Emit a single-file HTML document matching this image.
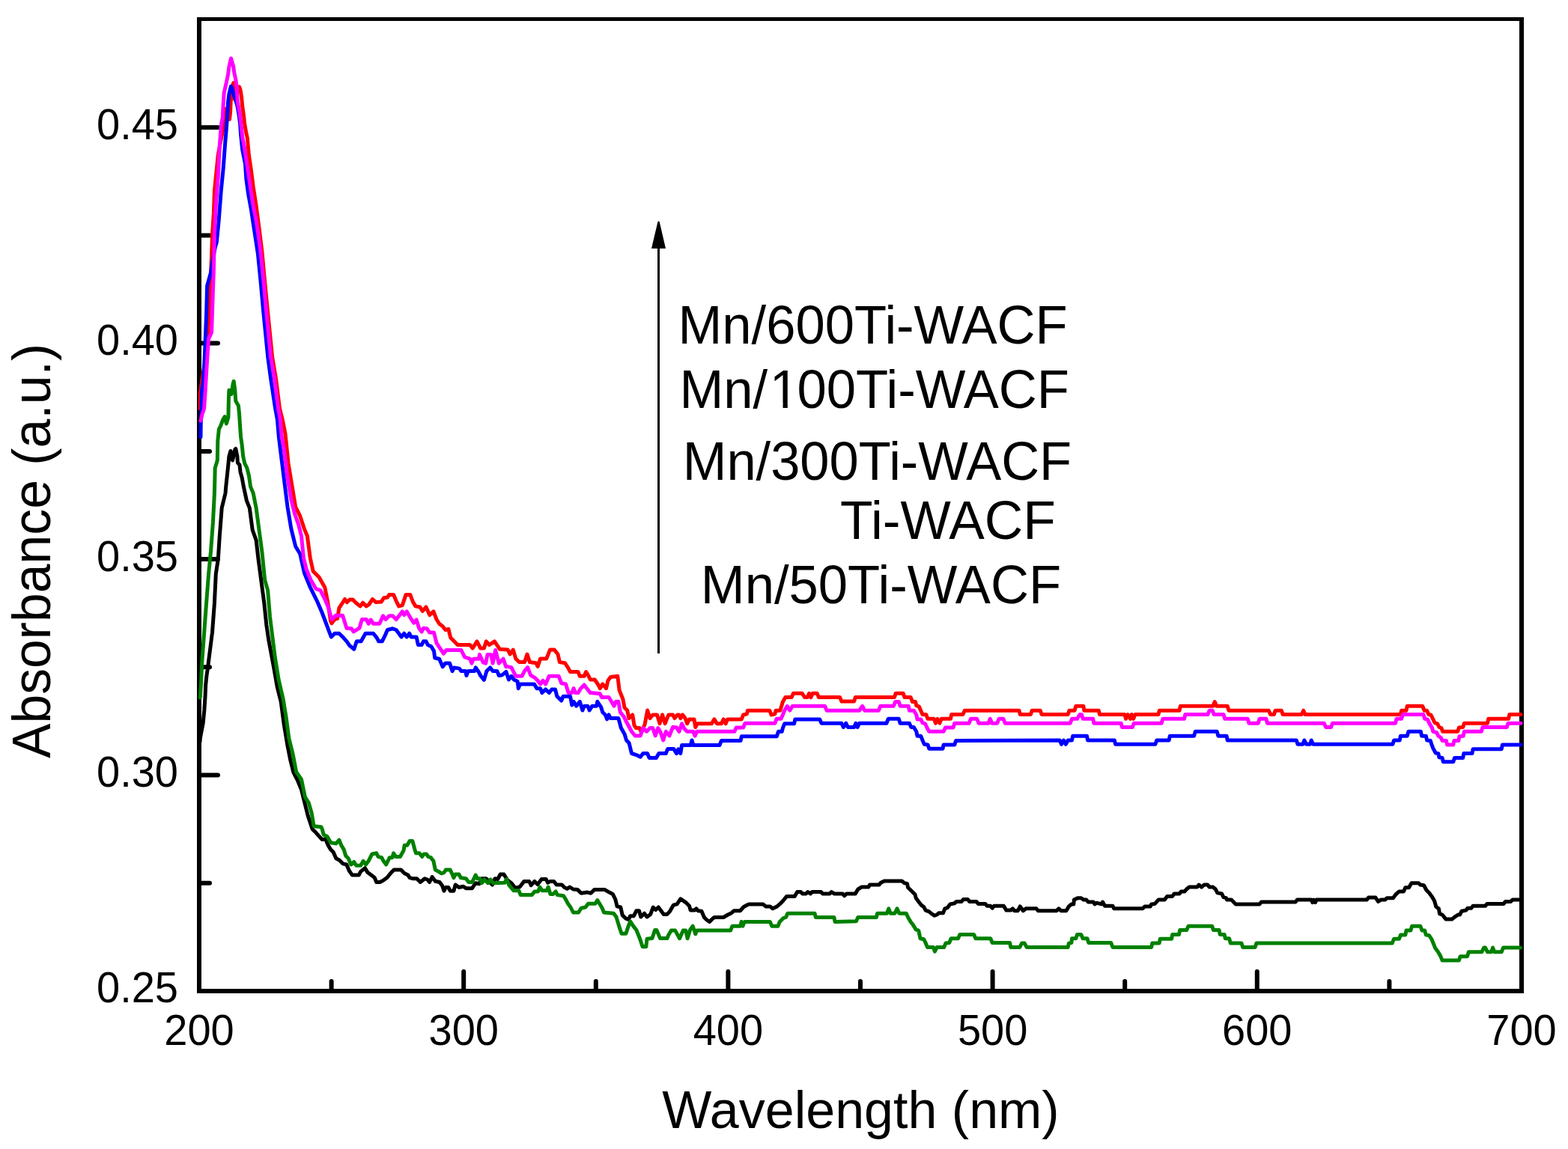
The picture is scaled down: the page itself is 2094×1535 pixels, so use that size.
<!DOCTYPE html>
<html><head><meta charset="utf-8"><title>Absorbance spectra</title>
<style>html,body{margin:0;padding:0;background:#fff;overflow:hidden}svg{display:block}</style>
</head><body>
<svg width="2094" height="1535" viewBox="0 0 2094 1535">
<style>
.tk{font-family:"Liberation Sans",Arial,sans-serif;font-size:56px;fill:#000}
.ax{font-family:"Liberation Sans",Arial,sans-serif;font-size:70px;fill:#000}
.lg{font-family:"Liberation Sans",Arial,sans-serif;font-size:70px;fill:#000}
</style>
<rect width="2094" height="1535" fill="#fff"/>
<path d="M2032,23 L2032,1327 M263,1324 L2035,1324 M266,23 L266,1327" stroke="#000" stroke-width="6" fill="none"/><path d="M263,25.5 L2035,25.5" stroke="#000" stroke-width="5" fill="none"/><path d="M266.0,1321 L266.0,1298 M442.6,1321 L442.6,1311 M619.2,1321 L619.2,1298 M795.8,1321 L795.8,1311 M972.4,1321 L972.4,1298 M1149.0,1321 L1149.0,1311 M1325.6,1321 L1325.6,1298 M1502.2,1321 L1502.2,1311 M1678.8,1321 L1678.8,1298 M1855.4,1321 L1855.4,1311 M2032.0,1321 L2032.0,1298 M269,1324.0 L291,1324.0 M269,1179.8 L280,1179.8 M269,1035.6 L291,1035.6 M269,891.3 L280,891.3 M269,747.1 L291,747.1 M269,602.9 L280,602.9 M269,458.6 L291,458.6 M269,314.4 L280,314.4 M269,170.2 L291,170.2" stroke="#000" stroke-width="6" fill="none" stroke-linecap="round"/>
<polyline points="267.0,991.0 267.4,986.0 268.3,981.0 271.2,966.0 272.8,949.0 274.0,931.0 274.7,915.0 275.9,903.0 277.1,895.0 279.0,880.0 283.5,844.7 286.4,805.7 288.3,766.6 291.3,747.0 293.2,717.7 296.2,678.6 301.0,659.0 301.8,649.4 303.3,635.8 304.9,620.2 305.9,609.8 308.0,602.5 310.6,615.0 313.8,600.4 314.8,599.4 316.9,609.8 317.4,618.1 320.0,621.2 321.0,630.6 323.1,637.9 325.2,649.4 329.4,668.9 333.3,678.6 337.2,708.0 342.1,721.6 345.0,747.0 348.9,776.3 352.8,805.7 355.8,835.0 358.7,854.5 361.6,870.1 365.5,891.0 370.3,918.2 375.2,937.7 379.1,967.0 384.0,996.3 387.9,1015.9 391.8,1031.5 397.7,1043.2 402.5,1055.0 406.4,1070.6 411.3,1090.1 417.2,1107.7 422.1,1112.6 429.9,1121.4 434.7,1121.0 438.2,1129.2 441.7,1135.1 445.2,1138.6 448.8,1146.8 453.4,1149.2 458.1,1153.9 462.8,1155.0 466.3,1163.2 470.4,1169.1 479.2,1169.1 481.6,1164.4 487.5,1159.7 491.0,1165.6 495.7,1169.1 500.3,1172.6 502.7,1178.5 507.4,1178.5 512.1,1176.1 516.8,1172.6 521.5,1166.8 526.1,1162.1 535.5,1162.1 540.2,1166.8 544.9,1169.1 547.2,1172.6 551.9,1173.8 556.6,1173.8 561.3,1178.5 567.2,1173.8 570.7,1175.0 573.6,1178.5 577.1,1171.5 581.3,1177.3 587.1,1178.5 590.6,1183.2 593.0,1190.2 595.3,1185.5 598.8,1185.5 601.2,1190.2 605.9,1190.2 608.2,1182.0 612.9,1185.5 618.8,1184.3 622.3,1186.7 630.5,1186.7 635.2,1179.7 639.9,1180.8 643.4,1173.8 649.3,1173.8 652.8,1177.3 657.5,1182.0 661.0,1173.8 664.7,1174.5 668.2,1168.0 672.9,1168.0 677.6,1175.7 683.4,1180.3 688.1,1186.2 694.0,1185.0 699.9,1177.4 706.9,1177.4 709.2,1182.7 713.9,1177.4 718.0,1181.5 723.3,1174.5 729.2,1174.5 731.5,1179.2 735.0,1177.4 739.7,1177.4 743.2,1182.1 750.3,1182.1 753.8,1185.6 757.3,1187.4 760.8,1185.0 765.5,1188.0 771.4,1188.6 776.1,1193.2 784.3,1192.1 789.0,1193.2 793.7,1188.6 807.7,1188.6 813.6,1192.1 818.3,1194.4 821.8,1201.5 824.1,1210.8 828.8,1212.0 831.2,1222.6 835.9,1227.2 839.4,1228.4 841.7,1223.7 846.4,1223.7 849.9,1216.7 853.5,1216.7 855.8,1224.9 860.5,1220.2 864.0,1224.9 868.7,1221.4 872.2,1212.0 875.7,1215.5 879.3,1212.0 882.8,1216.7 886.3,1221.4 891.0,1221.4 894.7,1217.3 899.4,1209.1 904.1,1207.9 908.8,1200.9 915.8,1205.6 920.5,1210.3 922.2,1216.1 927.5,1216.1 929.9,1213.8 932.2,1216.7 936.9,1217.3 940.4,1225.5 943.9,1229.0 947.5,1231.4 951.0,1227.9 953.9,1225.5 966.2,1225.5 972.1,1222.0 976.8,1219.7 980.3,1216.7 988.5,1216.7 993.2,1211.5 997.9,1209.1 1000.2,1207.9 1019.0,1207.9 1022.5,1210.9 1028.4,1210.9 1031.9,1213.8 1037.7,1210.9 1041.3,1207.9 1045.9,1203.2 1050.6,1197.4 1061.2,1197.4 1064.7,1191.5 1069.4,1191.5 1071.7,1193.9 1076.4,1193.9 1078.8,1191.5 1082.3,1193.9 1084.6,1191.5 1096.4,1191.5 1098.7,1193.9 1108.1,1193.9 1110.4,1191.5 1113.9,1193.9 1125.3,1193.9 1127.6,1196.8 1130.6,1193.9 1142.3,1193.9 1145.8,1188.0 1150.5,1185.1 1159.9,1185.1 1161.6,1182.1 1173.9,1182.1 1176.3,1179.2 1181.0,1176.9 1204.4,1176.9 1207.9,1179.8 1211.5,1180.4 1212.6,1185.7 1217.3,1190.3 1222.0,1195.0 1223.2,1199.7 1226.7,1204.4 1230.2,1209.1 1233.7,1211.5 1236.1,1216.1 1240.8,1217.9 1244.3,1220.8 1247.8,1223.2 1251.3,1222.0 1253.7,1219.7 1259.5,1219.7 1261.9,1213.8 1265.4,1212.6 1268.9,1207.9 1274.8,1206.8 1277.1,1204.4 1284.1,1204.4 1286.5,1201.5 1292.4,1201.5 1294.7,1204.4 1304.1,1204.4 1306.4,1207.4 1315.8,1207.4 1318.1,1210.3 1322.8,1210.3 1325.2,1213.2 1327.5,1210.3 1340.4,1210.3 1343.9,1216.1 1349.8,1216.1 1352.3,1213.8 1354.7,1216.7 1359.4,1216.7 1362.3,1210.9 1366.4,1216.7 1369.9,1213.8 1384.0,1213.8 1386.3,1216.7 1411.0,1216.7 1413.9,1213.8 1416.8,1216.7 1423.9,1216.7 1427.4,1210.9 1430.9,1207.9 1433.8,1207.9 1434.4,1202.1 1439.1,1199.7 1443.8,1199.7 1447.3,1202.1 1450.8,1202.1 1453.2,1205.0 1460.2,1205.0 1462.0,1207.9 1464.3,1206.2 1470.8,1207.9 1472.5,1205.0 1475.5,1210.3 1486.0,1210.3 1487.8,1213.8 1525.9,1213.8 1528.8,1210.9 1536.4,1210.9 1537.6,1207.9 1542.3,1207.4 1547.0,1202.1 1555.2,1202.1 1558.7,1197.4 1565.7,1197.4 1568.1,1193.9 1575.1,1193.9 1577.5,1190.9 1582.1,1190.9 1584.5,1188.0 1588.0,1185.1 1598.8,1185.1 1601.1,1182.1 1604.6,1185.1 1608.1,1182.1 1612.8,1182.1 1615.2,1185.1 1619.9,1185.1 1623.4,1188.0 1625.7,1192.7 1631.6,1193.9 1633.9,1198.6 1637.5,1199.7 1638.6,1202.1 1644.5,1202.1 1650.3,1207.9 1682.0,1207.9 1684.4,1205.0 1730.1,1205.0 1732.4,1202.1 1751.2,1202.1 1752.9,1205.6 1754.7,1202.1 1756.5,1205.6 1758.2,1202.1 1825.2,1202.1 1827.6,1199.1 1837.0,1199.1 1840.5,1204.4 1844.0,1202.1 1849.9,1202.1 1852.2,1199.7 1860.4,1199.7 1863.9,1195.0 1868.6,1190.9 1874.5,1190.9 1876.8,1185.7 1881.5,1185.7 1885.0,1179.8 1894.4,1179.8 1896.8,1182.1 1901.5,1182.7 1905.0,1189.2 1908.5,1192.7 1912.0,1197.4 1915.5,1203.2 1917.9,1211.5 1921.4,1213.8 1922.6,1220.8 1926.1,1222.0 1930.8,1227.9 1939.0,1227.9 1943.7,1224.3 1947.2,1222.0 1949.5,1222.0 1951.9,1217.3 1957.7,1216.1 1960.1,1213.2 1964.8,1213.2 1967.1,1210.3 1983.5,1210.3 1985.9,1207.4 2008.1,1207.4 2010.5,1204.4 2017.5,1204.4 2019.9,1202.1 2029.3,1202.1" fill="none" stroke="#000000" stroke-width="5" stroke-linejoin="round" stroke-linecap="round"/><polyline points="267.3,932.0 268.6,911.0 269.8,884.0 272.7,844.7 275.6,805.7 278.6,766.6 281.5,737.0 284.4,698.0 286.4,659.0 287.2,625.4 290.3,615.0 290.8,589.0 292.4,573.3 295.0,568.1 297.6,560.8 300.2,556.7 302.3,566.0 304.9,557.7 305.4,531.7 305.9,521.3 309.1,526.5 311.1,512.9 312.2,509.3 313.8,521.3 314.8,535.8 318.4,542.1 319.5,552.5 320.5,568.1 321.6,583.8 323.1,594.2 324.7,609.8 326.8,619.2 329.9,625.4 332.5,635.8 334.5,650.0 338.2,659.0 342.1,678.6 346.0,708.0 349.9,737.3 353.7,775.0 357.6,788.6 360.5,823.8 362.5,840.0 367.4,879.0 372.2,908.4 378.1,933.8 382.0,957.3 385.9,986.6 390.8,1006.0 395.7,1031.5 402.5,1041.3 407.4,1064.7 412.3,1072.6 416.2,1086.2 419.1,1103.8 428.9,1104.8 430.0,1107.0 432.3,1115.2 437.0,1117.5 441.7,1125.7 448.8,1126.9 452.9,1122.2 455.8,1129.2 459.3,1135.1 461.7,1143.3 465.2,1146.8 468.7,1155.0 472.8,1151.5 475.7,1156.2 481.6,1156.2 485.1,1150.3 488.6,1155.0 492.1,1150.3 496.8,1141.0 502.7,1139.8 505.0,1144.5 509.7,1145.7 512.1,1150.3 515.6,1155.0 520.3,1145.7 523.8,1145.7 525.6,1139.8 528.5,1144.5 534.4,1144.5 539.0,1136.3 540.2,1129.2 543.7,1129.2 547.2,1123.4 550.8,1123.4 554.3,1136.3 555.5,1139.8 560.1,1139.8 563.7,1144.5 566.0,1141.0 569.5,1141.0 571.9,1144.5 575.4,1145.7 578.9,1150.3 581.3,1162.1 585.9,1164.4 589.5,1166.8 593.0,1165.6 595.3,1162.1 601.2,1162.1 603.5,1166.8 605.9,1172.6 608.2,1167.9 612.9,1167.9 615.3,1172.6 622.3,1173.8 625.8,1178.5 630.5,1178.5 635.2,1169.1 637.5,1173.8 641.0,1173.8 643.4,1179.7 646.9,1175.0 651.6,1179.7 655.1,1175.0 658.6,1179.7 674.1,1179.2 676.4,1174.5 679.9,1182.7 685.8,1189.7 692.8,1189.7 695.2,1195.6 710.4,1195.6 713.9,1190.9 718.6,1190.9 721.0,1185.0 723.9,1189.7 730.3,1189.7 732.1,1185.0 735.0,1194.4 738.6,1194.4 742.1,1190.9 744.4,1195.6 752.6,1196.8 756.1,1202.6 758.5,1207.3 762.0,1212.0 765.5,1219.0 772.6,1219.0 776.1,1213.2 781.9,1212.0 785.5,1207.3 794.8,1207.3 797.8,1202.6 800.7,1207.3 804.2,1213.2 806.6,1219.0 819.5,1220.2 823.0,1224.9 826.5,1236.6 830.0,1247.2 835.9,1247.2 839.4,1236.6 841.7,1230.8 845.3,1236.6 849.9,1242.5 854.6,1254.2 858.1,1264.8 862.8,1264.8 864.0,1254.2 871.0,1253.6 874.6,1242.5 876.9,1242.5 881.6,1253.6 891.0,1253.6 892.3,1250.1 896.4,1243.1 901.7,1243.1 907.6,1253.7 912.3,1243.1 915.8,1243.1 918.1,1253.7 921.7,1241.9 925.2,1237.2 928.7,1247.8 930.5,1243.1 975.6,1243.1 977.9,1237.2 988.5,1237.2 990.2,1231.4 992.0,1237.2 994.3,1231.4 1028.4,1231.4 1030.7,1237.2 1038.9,1237.2 1041.3,1231.4 1045.9,1226.7 1049.5,1225.5 1051.8,1220.2 1088.1,1220.2 1089.3,1225.5 1113.9,1225.5 1115.1,1231.4 1143.4,1230.8 1145.8,1225.5 1170.4,1225.5 1171.6,1220.2 1184.5,1220.2 1186.8,1213.8 1189.2,1220.2 1195.0,1220.2 1198.0,1213.8 1200.9,1220.2 1210.3,1220.2 1212.6,1225.5 1216.1,1231.4 1219.7,1236.1 1223.2,1241.9 1226.7,1243.1 1229.0,1253.7 1233.7,1254.8 1236.1,1259.5 1238.4,1265.4 1246.6,1265.4 1248.4,1271.2 1251.3,1265.4 1260.7,1265.4 1263.0,1260.1 1267.7,1259.5 1270.1,1253.7 1279.5,1253.7 1281.8,1248.4 1300.6,1248.4 1302.9,1253.7 1322.8,1253.7 1325.2,1259.5 1348.6,1259.5 1349.8,1265.4 1361.7,1265.4 1364.7,1260.1 1368.2,1260.1 1371.1,1265.4 1426.2,1265.4 1427.4,1260.1 1430.9,1259.5 1431.5,1253.7 1436.8,1253.7 1438.5,1248.4 1443.8,1248.4 1446.1,1253.7 1452.0,1253.7 1453.8,1259.5 1483.7,1259.5 1486.0,1265.4 1537.6,1265.4 1538.8,1260.1 1548.1,1260.1 1549.3,1254.3 1564.6,1254.3 1565.7,1248.4 1574.5,1248.4 1575.7,1242.5 1584.7,1242.5 1587.0,1237.2 1618.7,1237.2 1620.4,1242.5 1628.1,1242.5 1629.2,1248.4 1635.1,1248.4 1636.3,1253.7 1641.6,1253.7 1643.3,1260.1 1658.0,1260.1 1659.7,1265.4 1676.1,1265.4 1677.9,1260.1 1859.2,1260.1 1861.6,1254.3 1868.6,1254.3 1870.4,1249.0 1876.8,1249.0 1878.0,1243.1 1883.9,1243.1 1885.6,1237.2 1896.8,1237.2 1899.1,1243.1 1902.6,1243.1 1904.4,1249.0 1908.5,1249.6 1912.0,1254.8 1914.3,1260.7 1916.7,1266.6 1920.2,1271.2 1923.7,1277.1 1926.1,1283.0 1948.4,1283.0 1950.1,1277.7 1959.5,1277.7 1961.3,1271.8 1978.8,1271.8 1981.8,1266.0 1983.5,1266.0 1986.5,1271.8 1991.7,1271.8 1993.5,1266.0 1995.8,1271.8 2005.2,1271.8 2007.6,1266.0 2030.4,1266.0" fill="none" stroke="#008000" stroke-width="5" stroke-linejoin="round" stroke-linecap="round"/><polyline points="267.0,546.0 267.3,525.0 269.5,510.0 272.5,490.0 275.7,475.8 277.6,445.0 279.6,417.0 280.6,384.0 282.5,345.0 283.5,314.0 285.4,284.7 286.4,255.4 288.3,235.9 291.3,206.6 294.0,192.0 298.2,171.0 299.7,153.0 301.0,145.4 304.0,153.0 306.5,159.4 307.6,150.0 308.2,135.0 309.5,125.0 311.0,113.0 312.0,110.5 313.0,120.0 313.5,133.0 315.5,128.0 317.5,118.0 319.5,116.0 321.0,120.0 322.6,130.0 323.7,141.9 325.4,153.6 326.6,165.3 328.7,177.0 330.4,185.0 332.3,206.6 335.2,226.1 338.2,249.6 342.1,275.0 346.0,304.3 349.9,336.0 353.5,375.0 357.7,418.0 363.6,476.8 368.5,506.0 373.4,545.0 377.1,560.0 381.0,579.5 385.0,618.6 389.8,648.0 394.7,677.3 400.6,689.0 406.4,706.6 410.4,716.3 414.3,745.7 418.2,763.2 426.0,771.0 433.8,784.7 437.7,804.3 441.6,829.7 442.9,832.7 447.0,827.5 450.6,826.3 452.9,812.2 457.6,805.2 460.5,800.5 463.4,804.6 467.0,801.0 471.1,801.0 475.2,805.2 481.0,809.9 484.6,805.2 489.2,809.9 492.8,807.5 497.5,800.5 502.1,804.6 509.2,804.0 512.7,798.7 517.4,798.1 519.7,794.6 525.6,794.6 529.1,802.8 532.6,809.9 537.3,808.7 542.0,794.6 547.9,794.6 551.4,804.0 554.9,809.9 560.8,811.0 564.3,816.3 569.0,811.0 573.7,821.6 578.9,816.9 583.0,827.5 586.6,833.3 591.2,836.8 594.8,841.5 598.9,840.3 601.8,852.1 606.5,856.8 611.2,861.5 627.6,861.5 631.1,866.1 637.0,856.8 641.7,866.1 646.4,866.1 649.3,856.8 653.4,861.5 660.4,856.8 667.5,867.3 678.2,868.1 681.1,874.0 685.2,868.1 688.8,879.9 693.4,884.6 700.5,884.6 704.0,874.0 707.5,884.6 715.7,885.7 718.1,890.4 721.6,879.9 729.8,879.9 734.5,868.1 740.3,868.1 745.0,874.0 747.4,884.6 754.4,885.7 759.1,892.8 761.5,897.5 772.0,897.5 774.3,903.3 780.2,903.3 782.6,897.5 786.1,903.3 788.4,908.0 794.3,908.0 799.0,915.0 801.3,919.7 804.8,913.9 809.5,919.7 811.9,909.2 815.4,904.5 824.8,903.3 827.1,922.1 831.8,933.8 834.1,945.5 837.7,949.0 840.0,959.6 844.7,954.9 847.0,969.0 849.4,972.5 854.1,972.5 856.4,978.4 861.1,967.8 864.6,949.0 868.1,959.6 871.7,954.9 877.5,954.9 881.0,966.6 884.6,954.9 888.1,966.6 892.8,954.9 898.6,954.9 901.0,959.6 904.5,954.9 907.0,955.0 908.8,959.7 911.7,955.0 915.2,959.7 917.6,966.8 920.5,960.9 927.0,960.9 928.7,971.5 931.1,966.8 950.4,966.8 953.9,960.9 957.5,966.8 963.3,966.8 966.2,960.9 969.2,966.8 971.5,960.9 990.3,960.9 992.6,955.0 997.3,953.9 998.5,949.2 1027.8,949.2 1030.1,955.0 1034.8,953.9 1036.0,949.2 1041.9,949.2 1045.4,937.5 1048.9,931.6 1057.1,931.6 1059.5,926.3 1071.2,926.3 1074.7,931.6 1078.2,931.6 1080.6,926.3 1082.9,931.6 1085.3,926.3 1091.1,926.3 1093.5,931.6 1121.6,931.6 1123.9,936.9 1140.6,936.9 1142.3,931.6 1194.5,931.6 1196.2,926.3 1206.2,926.3 1208.0,931.6 1216.2,931.6 1218.5,937.5 1222.6,937.5 1223.8,942.7 1227.3,943.9 1229.7,949.2 1232.0,954.5 1236.7,954.5 1239.0,960.3 1247.2,960.3 1249.6,966.2 1251.9,960.3 1254.9,966.2 1257.2,960.3 1269.5,960.3 1270.7,954.5 1285.9,954.5 1288.3,949.2 1361.0,949.2 1362.3,954.5 1376.4,954.5 1378.2,949.2 1389.3,949.2 1391.1,954.5 1426.2,954.5 1428.0,949.2 1435.0,949.2 1436.8,943.3 1446.8,943.3 1447.9,949.2 1467.3,949.2 1468.5,954.5 1501.9,954.5 1503.6,960.3 1506.0,954.5 1509.5,960.3 1511.2,954.5 1513.6,960.3 1515.9,954.5 1547.0,954.5 1548.2,949.2 1575.1,949.2 1576.3,943.3 1619.9,943.3 1622.2,937.5 1624.6,943.3 1639.2,943.3 1641.0,949.2 1694.3,949.2 1696.7,954.5 1701.4,954.5 1703.1,949.2 1711.4,949.2 1713.1,954.5 1738.3,954.5 1740.7,949.2 1743.0,954.5 1870.4,954.5 1871.6,949.2 1878.0,949.2 1879.2,943.3 1899.7,943.3 1902.1,949.2 1905.6,949.2 1907.9,954.5 1910.9,955.0 1913.8,960.9 1916.1,965.6 1919.7,966.8 1922.0,971.5 1924.9,972.6 1926.7,977.3 1946.6,977.3 1948.4,972.0 1953.7,971.5 1955.4,966.2 1986.5,966.2 1987.7,960.3 2014.6,960.3 2015.8,954.5 2031.0,954.5" fill="none" stroke="#FF0000" stroke-width="5" stroke-linejoin="round" stroke-linecap="round"/><polyline points="268.0,584.0 268.2,567.0 269.2,545.0 269.5,522.0 271.3,511.0 272.5,493.0 273.5,473.0 275.7,417.0 276.6,382.0 281.5,364.5 285.4,340.0 287.4,330.0 289.3,323.8 292.2,294.5 295.2,255.4 298.1,226.1 301.0,187.0 301.4,183.0 302.4,171.0 303.2,159.4 304.0,147.7 304.6,136.0 306.0,125.0 308.5,115.2 310.5,120.0 312.5,128.0 314.0,131.0 317.0,141.9 319.1,153.6 320.6,165.3 321.6,180.0 323.6,199.5 327.5,219.0 328.8,238.6 331.4,258.0 335.0,277.7 339.1,304.3 342.1,323.8 344.5,340.0 348.0,375.0 351.9,418.0 357.7,476.8 361.6,506.0 367.5,545.0 370.3,560.0 372.4,584.3 374.2,599.0 377.3,623.4 379.1,638.2 384.0,677.3 388.9,706.6 394.7,730.0 400.6,739.8 406.4,765.2 414.3,784.7 423.1,802.3 429.9,818.0 435.8,833.6 440.0,845.0 442.3,850.9 447.0,846.2 452.9,846.2 458.8,852.1 463.4,857.3 467.0,862.6 472.8,867.3 476.3,856.8 482.2,856.8 488.1,846.2 498.6,846.2 503.3,852.1 505.7,856.8 510.3,856.8 513.9,849.7 517.4,841.5 524.4,839.8 529.1,841.5 532.6,846.2 536.1,850.9 539.7,846.2 543.2,850.9 546.7,846.2 549.0,850.9 556.1,850.9 558.4,861.5 563.1,861.5 565.5,856.8 569.0,856.8 571.3,861.5 576.0,863.8 579.5,869.7 580.7,879.0 586.6,880.2 591.2,890.8 594.8,886.1 600.6,886.1 604.1,896.6 606.5,891.9 613.5,893.1 615.9,896.6 621.7,896.6 622.9,902.5 625.3,896.6 633.5,896.6 635.2,891.9 639.3,897.8 641.7,902.5 646.4,908.4 649.9,896.6 654.6,891.9 658.1,896.6 663.9,896.6 666.3,902.5 670.0,902.1 675.9,897.5 679.4,908.0 682.9,903.3 686.4,908.0 691.1,910.3 692.3,919.7 694.6,913.9 713.4,913.9 716.9,919.7 721.6,919.7 723.9,925.6 728.6,920.9 733.3,925.6 736.8,920.9 741.5,920.9 743.9,930.3 749.7,936.1 752.1,930.3 761.5,930.3 763.8,942.0 766.1,937.3 769.7,943.2 774.3,937.3 777.9,949.0 780.2,943.2 784.9,943.2 787.2,949.0 790.8,943.2 796.6,943.2 797.8,937.3 802.5,944.3 804.8,951.4 808.3,954.9 810.7,960.8 813.0,954.9 815.4,959.6 825.9,959.6 829.4,972.5 834.1,980.7 836.5,988.9 840.0,992.4 843.5,1006.5 850.6,1008.8 855.2,1011.2 858.8,1006.5 864.6,1006.5 867.0,1012.4 876.4,1012.4 879.9,1006.5 889.3,1006.5 891.6,1000.6 899.8,1000.6 903.5,1006.6 905.9,1000.8 908.8,1006.6 910.6,995.5 922.3,995.5 924.0,989.0 925.8,995.5 961.0,995.5 963.3,989.6 989.1,989.6 990.3,983.8 1037.2,983.8 1039.5,977.3 1044.2,977.3 1045.4,972.6 1047.7,966.8 1060.6,966.8 1061.8,960.9 1094.6,960.9 1097.0,966.2 1123.9,966.2 1126.3,971.5 1129.8,966.2 1132.3,971.5 1140.6,971.5 1142.9,966.2 1145.2,971.5 1147.6,966.2 1183.9,966.2 1186.3,960.3 1200.3,960.3 1202.1,966.2 1214.4,966.2 1216.8,971.5 1220.3,971.5 1223.8,977.3 1225.0,983.2 1229.7,983.2 1232.0,989.0 1234.3,994.3 1239.0,994.9 1240.8,1000.2 1259.0,1000.2 1260.1,994.9 1274.8,994.9 1276.6,989.6 1415.1,989.0 1417.5,994.3 1420.4,989.0 1423.3,994.3 1426.2,989.0 1431.5,989.0 1432.7,983.2 1451.5,983.2 1452.6,989.0 1488.4,989.0 1489.6,994.3 1542.9,994.3 1544.7,989.0 1561.1,989.0 1562.3,983.2 1594.5,983.2 1596.3,977.3 1625.2,977.3 1626.9,983.2 1638.1,983.2 1639.2,989.0 1731.3,989.0 1733.0,994.3 1740.1,994.3 1741.8,989.0 1744.8,994.3 1749.5,994.3 1751.2,989.0 1753.6,994.3 1859.9,994.3 1861.6,989.0 1869.2,989.0 1870.4,983.2 1879.2,983.2 1881.0,977.3 1897.4,977.3 1898.6,983.2 1904.4,983.2 1905.6,989.0 1910.3,989.6 1912.0,994.9 1913.8,999.6 1917.3,1006.0 1920.8,1006.6 1922.0,1011.9 1926.1,1012.5 1927.3,1017.8 1940.8,1017.8 1942.5,1012.5 1953.7,1012.5 1954.8,1006.6 1966.0,1006.6 1967.1,1000.8 2005.2,1000.8 2006.4,994.9 2031.0,994.9" fill="none" stroke="#0000FF" stroke-width="5" stroke-linejoin="round" stroke-linecap="round"/><polyline points="268.0,562.0 270.0,553.5 272.6,546.0 273.7,530.0 275.6,498.0 276.8,478.0 278.6,452.3 282.5,444.5 283.5,417.0 285.4,358.6 286.4,314.0 288.3,275.0 291.3,235.9 293.2,196.8 294.4,180.0 295.5,166.0 297.3,157.0 297.9,144.0 299.2,124.0 301.7,113.0 304.5,100.0 305.9,89.3 308.5,78.0 311.8,89.3 312.6,96.0 314.9,106.7 316.4,118.4 317.2,136.0 320.5,153.6 322.5,171.0 323.7,183.0 326.4,196.8 329.4,216.3 332.3,235.9 335.2,255.4 338.2,275.0 342.1,294.5 345.0,314.0 348.0,336.0 351.9,375.0 355.8,418.0 361.6,476.8 366.5,506.0 371.4,545.0 374.2,560.0 376.3,584.3 379.1,599.0 384.0,638.2 388.9,667.5 393.7,687.0 398.6,700.7 402.5,716.3 405.5,745.7 409.4,761.3 415.2,775.0 422.1,786.7 427.9,788.6 433.8,800.4 438.7,812.1 442.6,825.8 443.5,827.5 448.2,822.2 457.6,822.2 462.9,839.2 469.3,839.8 472.2,843.9 479.9,839.2 483.4,827.5 489.2,827.5 492.2,833.3 495.1,828.0 498.6,833.3 506.8,833.3 511.5,822.8 515.0,827.5 519.7,822.8 524.4,822.8 529.1,827.5 533.8,821.6 537.3,816.9 539.7,821.6 543.2,816.9 547.9,825.1 552.6,832.1 556.1,828.0 559.6,839.2 563.1,843.9 565.5,839.2 570.1,839.8 573.7,845.0 579.5,845.0 583.0,859.1 587.7,866.1 592.4,873.2 595.9,868.5 615.9,868.5 620.6,877.9 627.6,880.2 629.9,886.1 632.3,880.2 639.3,880.2 640.5,874.4 645.2,884.9 648.7,886.1 651.0,874.4 655.7,874.4 658.1,886.1 661.6,868.5 666.3,886.1 672.1,880.2 675.7,890.8 677.0,890.4 682.9,891.6 688.8,903.3 697.0,903.3 700.5,896.3 704.6,891.6 708.7,902.1 714.6,905.7 718.1,909.2 721.6,913.9 725.1,909.2 728.6,913.9 733.3,903.3 746.2,903.3 749.7,912.7 755.6,913.9 759.1,925.6 763.8,925.6 766.1,919.7 768.5,925.6 772.0,925.6 775.5,919.7 780.2,915.0 783.7,919.7 788.4,925.6 801.3,926.8 803.7,931.5 813.0,931.5 816.6,937.3 820.1,943.2 822.4,937.3 825.9,937.3 828.3,951.4 833.0,957.2 836.5,964.3 843.5,977.2 848.2,983.0 855.2,983.0 858.8,972.5 863.5,977.2 868.1,972.5 871.7,972.5 875.2,983.0 878.7,972.5 882.2,978.4 885.7,988.9 889.3,977.2 893.9,983.0 898.6,971.3 903.5,972.0 907.0,977.3 910.6,966.8 914.1,973.8 917.6,977.3 925.8,977.3 928.1,983.2 930.5,977.3 980.9,977.3 983.2,972.0 992.6,972.0 995.0,966.2 1034.8,966.2 1037.2,960.3 1043.0,960.3 1045.4,955.0 1047.7,949.2 1051.3,943.3 1054.8,949.2 1058.3,943.3 1101.7,943.3 1104.0,949.2 1147.6,949.2 1151.7,943.3 1154.6,949.2 1173.4,949.2 1175.7,943.3 1193.3,943.3 1195.7,937.5 1200.3,937.5 1202.1,943.3 1213.2,943.3 1214.4,949.2 1220.3,949.2 1223.8,955.0 1225.0,960.9 1229.7,960.9 1232.0,965.6 1235.5,966.8 1237.9,972.0 1240.8,977.3 1260.1,977.3 1262.5,972.0 1273.0,972.0 1274.8,966.2 1294.1,966.2 1296.5,960.3 1304.7,960.3 1307.0,966.2 1319.9,966.2 1322.3,960.3 1324.6,966.2 1331.7,966.2 1334.0,960.3 1339.9,960.3 1342.2,966.2 1429.2,966.2 1431.5,960.3 1438.6,960.3 1442.1,954.5 1444.4,954.5 1446.2,960.3 1459.7,960.3 1460.8,966.2 1497.2,966.2 1498.4,971.5 1512.4,971.5 1514.2,966.2 1551.1,966.2 1552.9,960.3 1581.6,960.3 1582.8,954.5 1612.9,954.5 1615.2,949.2 1619.3,949.2 1621.1,954.5 1634.0,954.5 1635.7,960.3 1666.2,960.3 1668.0,966.2 1680.3,966.2 1682.0,960.3 1690.8,960.3 1692.6,966.2 1768.2,966.2 1770.6,971.5 1777.6,971.5 1779.4,966.2 1863.4,966.2 1865.1,960.3 1871.6,960.3 1873.3,954.5 1900.9,954.5 1902.7,960.3 1906.2,960.9 1909.1,966.8 1912.6,972.6 1913.8,977.3 1918.5,978.5 1920.8,983.2 1924.3,985.5 1926.1,989.6 1931.4,989.6 1932.6,994.9 1940.8,994.9 1941.9,989.6 1947.8,989.6 1949.0,983.8 1954.2,983.2 1955.4,977.3 1978.3,977.3 1980.0,971.5 2012.3,971.5 2014.0,966.2 2031.0,966.2" fill="none" stroke="#FF00FF" stroke-width="5" stroke-linejoin="round" stroke-linecap="round"/>
<path d="M879.5,873 L879.5,330" stroke="#000" stroke-width="3" fill="none"/><path d="M878.6,295.8 L880.6,295.8 L889,332 L870,332 Z" fill="#000"/>
<text transform="translate(266.0,1396) scale(1,1.03)" text-anchor="middle" class="tk">200</text><text transform="translate(619.2,1396) scale(1,1.03)" text-anchor="middle" class="tk">300</text><text transform="translate(972.4,1396) scale(1,1.03)" text-anchor="middle" class="tk">400</text><text transform="translate(1325.6,1396) scale(1,1.03)" text-anchor="middle" class="tk">500</text><text transform="translate(1678.8,1396) scale(1,1.03)" text-anchor="middle" class="tk">600</text><text transform="translate(2032.0,1396) scale(1,1.03)" text-anchor="middle" class="tk">700</text><text transform="translate(238,1339.4) scale(1,1.03)" text-anchor="end" class="tk">0.25</text><text transform="translate(238,1051.0) scale(1,1.03)" text-anchor="end" class="tk">0.30</text><text transform="translate(238,762.5) scale(1,1.03)" text-anchor="end" class="tk">0.35</text><text transform="translate(238,474.0) scale(1,1.03)" text-anchor="end" class="tk">0.40</text><text transform="translate(238,185.6) scale(1,1.03)" text-anchor="end" class="tk">0.45</text><text x="1149.5" y="1507" text-anchor="middle" class="ax">Wavelength (nm)</text><text transform="translate(67,736) rotate(-90) scale(0.996,1.02)" text-anchor="middle" class="ax">Absorbance (a.u.)</text><text transform="translate(905.5,459) scale(1.0084,1.025)" class="lg">Mn/600Ti-WACF</text><clipPath id="c1" clipPathUnits="userSpaceOnUse"><rect x="111.69" y="-70" width="48.93" height="63.9"/><rect x="136.87" y="-6.2" width="6.19" height="9.5"/></clipPath><g transform="translate(907.5,544.9) scale(1.0087,1.025)"><text x="0" y="0" class="lg">Mn/</text><text x="119.27" y="0" class="lg" clip-path="url(#c1)">1</text><text x="155.62" y="0" class="lg">00Ti-WACF</text></g><text transform="translate(911.7,641) scale(1.0067,1.025)" class="lg">Mn/300Ti-WACF</text><text transform="translate(1122,719.9) scale(1.0187,1.025)" class="lg">Ti-WACF</text><text transform="translate(935.8,805.9) scale(1.009,1.025)" class="lg">Mn/50Ti-WACF</text>
</svg>
</body></html>
